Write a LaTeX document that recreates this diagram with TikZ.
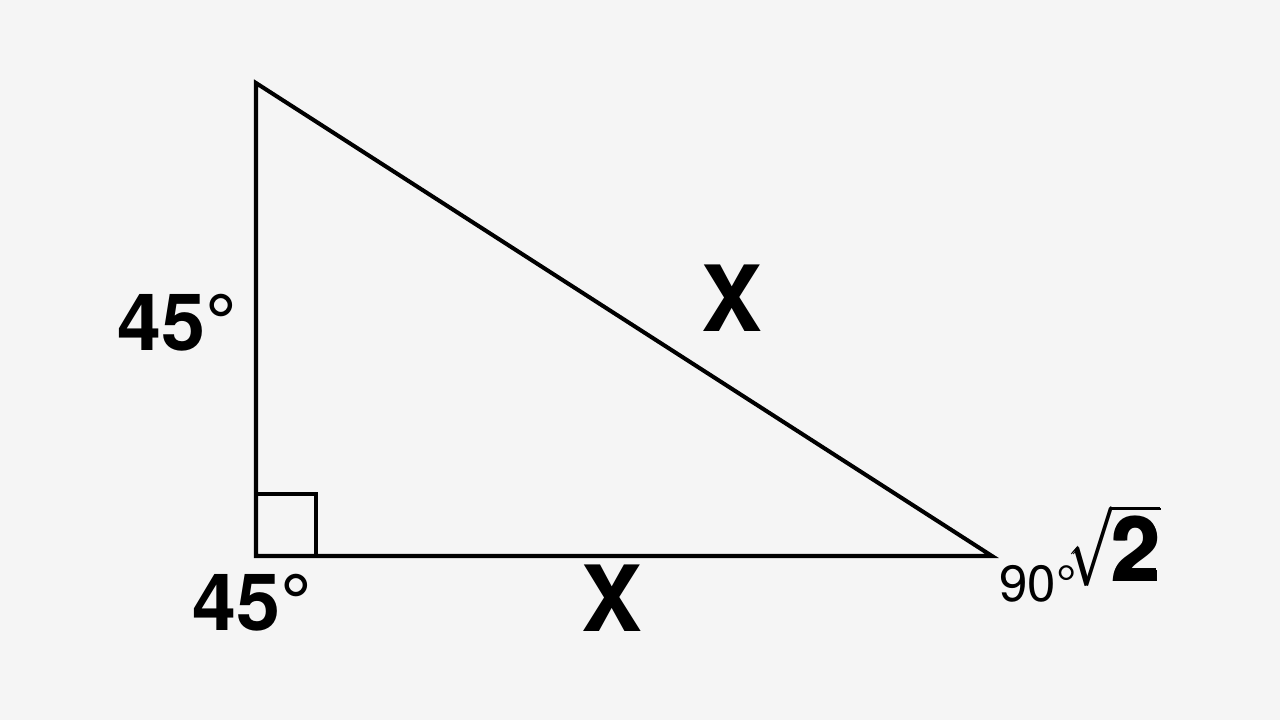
\documentclass[tikz,border=0pt]{standalone}
\usepackage{fontspec}
\usepackage{amsmath}
\setmainfont{TeX Gyre Heros}
\definecolor{paper}{RGB}{245,245,245}

\begin{document}
\begin{tikzpicture}[x=0.02cm,y=-0.02cm,
    edge/.style={draw=black,line width=2.3pt},
    angle/.style={font=\fontsize{45}{45}\selectfont\bfseries},
    side/.style={font=\fontsize{52}{52}\selectfont\bfseries}]
  \fill[paper] (0,0) rectangle (1280,720);
  \useasboundingbox (0,0) rectangle (1280,720);

  \coordinate (top) at (256,83);
  \coordinate (corner) at (256,556);
  \coordinate (tip) at (992,556);

  \draw[edge] (top) -- (corner) -- (tip) -- cycle;
  \draw[edge] (corner) rectangle (316,494);

  % labels
  \node[angle] (lefta) at (177,323) {45°};
  \node[angle] (lowa) at (252,603) {45°};
  \node[side] (hyp) at (732,298) {X};
  \node[side] (base) at (612,598) {X};
  \node[font=\fontsize{29}{29}\selectfont,inner sep=0pt] (right) at (1038,584) {90°};
  \node[font=\fontsize{50}{50}\selectfont,inner sep=0pt,anchor=base west] (root) at (1068,581)
    {$\pmb{\sqrt{\hbox{\bfseries 2}}}$};
\end{tikzpicture}
\end{document}
